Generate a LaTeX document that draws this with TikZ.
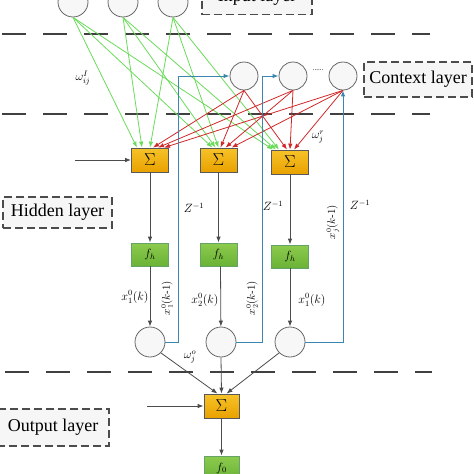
\documentclass[tikz,border=0pt]{standalone}
\usepackage{fontspec}
\setmainfont{Liberation Serif}
\usetikzlibrary{arrows.meta,calc}
\definecolor{sumtop}{HTML}{F6C229}
\definecolor{sumbot}{HTML}{E9A200}
\definecolor{acttop}{HTML}{8CCB4E}
\definecolor{actbot}{HTML}{6AB236}
\definecolor{garrow}{HTML}{6ADB5A}
\definecolor{rarrow}{HTML}{D02828}
\definecolor{fblue}{HTML}{3A86AE}
\begin{document}
\begin{tikzpicture}[x=1pt,y=-1pt,
  neuron/.style={circle,draw=black!60,fill=gray!6,line width=0.8pt,minimum size=30pt,inner sep=0pt},
  ctxn/.style={neuron,minimum size=28pt},
  sumbox/.style={draw=black!65,line width=0.8pt,top color=sumtop,bottom color=sumbot,minimum width=37pt,minimum height=24pt,inner sep=0pt,font=\fontsize{16}{16}\selectfont},
  actbox/.style={draw=black!60!green!60,line width=0.8pt,top color=acttop,bottom color=actbot,minimum width=37pt,minimum height=23pt,inner sep=0pt,font=\fontsize{12}{12}\selectfont},
  layerbox/.style={draw=black!70,line width=1.3pt,dash pattern=on 8pt off 4pt,fill=gray!7,inner sep=0pt,font=\fontsize{18}{18}\selectfont},
  sep/.style={draw=black!75,line width=1.3pt,dash pattern=on 24pt off 17pt},
  garr/.style={draw=garrow,line width=0.8pt,-{Latex[length=6pt,width=4.5pt]}},
  rarr/.style={draw=rarrow,line width=0.8pt,-{Latex[length=6pt,width=4.5pt]}},
  barr/.style={draw=black!70,line width=0.8pt,-{Latex[length=6pt,width=4.5pt]}},
  fb/.style={draw=fblue,line width=1pt},
  lab/.style={font=\fontsize{12}{12}\selectfont,inner sep=0pt},
  rlab/.style={font=\fontsize{10.5}{10.5}\selectfont,inner sep=0pt,rotate=90},
]
\useasboundingbox (0,0) rectangle (474,474);

% separators
\draw[sep] (2,34) -- (430,34);
\draw[sep] (2,114) -- (430,114);
\draw[sep] (5,372) -- (432,372);

% layer labels
\node[layerbox,minimum width=110pt,minimum height=35pt] (Lin) at (257,-3) {Input layer};
\node[layerbox,minimum width=108pt,minimum height=35pt] (Lctx) at (418,79.5) {Context layer};
\node[layerbox,minimum width=109pt,minimum height=31pt] (Lhid) at (57.5,212.5) {Hidden layer};
\node[layerbox,minimum width=112pt,minimum height=37pt] (Lout) at (53,427.5) {Output layer};

% input neurons
\node[neuron] (i1) at (73,2) {};
\node[neuron] (i2) at (123,2) {};
\node[neuron] (i3) at (173,2) {};

% context neurons
\node[ctxn] (c1) at (244,76) {};
\node[ctxn] (c2) at (293,76) {};
\node[ctxn] (c3) at (343,76) {};
\node[font=\fontsize{7}{7}\selectfont,inner sep=0pt] (dots) at (318,70) {......};

% hidden sums
\node[sumbox] (s1) at (150,160) {$\Sigma$};
\node[sumbox] (s2) at (218.5,160) {$\Sigma$};
\node[sumbox] (s3) at (290,162) {$\Sigma$};

% activation
\node[actbox] (f1) at (150,254.5) {$f_h$};
\node[actbox] (f2) at (218.5,254.5) {$f_h$};
\node[actbox] (f3) at (290,256.5) {$f_h$};

% hidden outputs
\node[neuron] (h1) at (150,342) {};
\node[neuron] (h2) at (221,342) {};
\node[neuron] (h3) at (290,342) {};

% output
\node[sumbox,minimum width=35pt] (os) at (221.5,406) {$\Sigma$};
\node[actbox,minimum width=35pt,minimum height=24pt] (fo) at (221.5,468) {$f_0$};

% external inputs
\coordinate (e1) at (75,160);
\coordinate (e2) at (147,406);
\draw[barr] (e1) -- (s1.west);
\draw[barr] (e2) -- (os.west);

% green arrows input -> hidden
\draw[garr] (i1.south) -- ([xshift=-13pt]s1.north);
\draw[garr] (i2.south) -- ([xshift=-8pt]s1.north);
\draw[garr] (i3.south) -- ([xshift=0pt]s1.north);
\draw[garr] (i1.south) -- ([xshift=-6pt]s2.north);
\draw[garr] (i2.south) -- ([xshift=-3pt]s2.north);
\draw[garr] (i3.south) -- ([xshift=0pt]s2.north);
\draw[garr] (i1.south) -- ([xshift=-17pt]s3.north);
\draw[garr] (i2.south) -- ([xshift=-14pt]s3.north);
\draw[garr] (i3.south) -- ([xshift=-11pt]s3.north);

% red arrows context -> hidden
\draw[rarr] (c1.south) -- ([xshift=3pt]s1.north);
\draw[rarr] (c2.south) -- ([xshift=8pt]s1.north);
\draw[rarr] (c3.south) -- ([xshift=14pt]s1.north);
\draw[rarr] (c1.south) -- ([xshift=2pt]s2.north);
\draw[rarr] (c2.south) -- ([xshift=7pt]s2.north);
\draw[rarr] (c3.south) -- ([xshift=13pt]s2.north);
\draw[rarr] (c1.south) -- ([xshift=-3pt]s3.north);
\draw[rarr] (c2.south) -- ([xshift=0pt]s3.north);
\draw[rarr] (c3.south) -- ([xshift=4pt]s3.north);

% hidden chain
\draw[barr] (s1) -- (f1);
\draw[barr] (s2) -- (f2);
\draw[barr] (s3) -- (f3);
\draw[barr] (f1) -- (h1);
\draw[barr] ([xshift=2pt]f2.south) -- (h2);
\draw[barr] (f3) -- (h3);

% feedback lines
\coordinate (b1) at (178,76);
\coordinate (b2) at (262,76);
\draw[fb,-{Latex[length=6pt,width=4.5pt]}] (h1.east) -| (b1) -- (c1.west);
\draw[fb,-{Latex[length=6pt,width=4.5pt]}] (h2.east) -| (b2) -- (c2.west);
\draw[fb,-{Latex[length=6pt,width=4.5pt]}] (h3.east) -| (c3.south);

% output connections
\draw[barr] (h1.south east) -- ([xshift=-4pt]os.north);
\draw[barr] (h2.south) -- ([xshift=0pt]os.north);
\draw[barr] (h3.south west) -- ([xshift=5pt]os.north);
\draw[barr] (os) -- (fo);

% labels
\node[lab] (wI) at (83,78) {$\omega_{ij}^{I}$};
\node[lab] (wr) at (318,137) {$\omega_{j}^{r}$};
\node[lab] (wo) at (190,357) {$\omega_{j}^{o}$};
\node[lab] (z1) at (194,208) {$Z^{-1}$};
\node[lab] (z2) at (273,206) {$Z^{-1}$};
\node[lab] (z3) at (360,205) {$Z^{-1}$};
\node[lab] (x1) at (135,297) {$x_1^0(k)$};
\node[lab] (x2) at (205,300) {$x_2^0(k)$};
\node[lab] (x3) at (312,300) {$x_1^0(k)$};
\node[rlab] (xk1) at (167,298) {$x_1^0(k\mbox{-}1)$};
\node[rlab] (xk2) at (252,298) {$x_2^0(k\mbox{-}1)$};
\node[rlab] (xkj) at (333,222) {$x_j^0(k\mbox{-}1)$};
\end{tikzpicture}
\end{document}
